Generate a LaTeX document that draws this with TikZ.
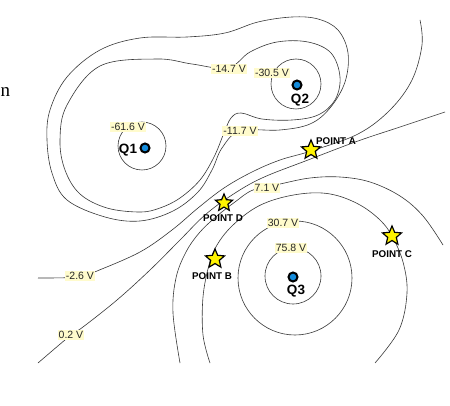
\documentclass[tikz,border=0pt]{standalone}
\usepackage{fontspec}
\setmainfont{Liberation Serif}
\newfontfamily\arialf{Liberation Sans}
\usetikzlibrary{shapes.geometric}
\definecolor{lblfill}{RGB}{255,251,204}
\definecolor{qblue}{RGB}{20,140,220}
\definecolor{staryel}{RGB}{255,243,0}
\begin{document}
\begin{tikzpicture}[x=1pt,y=-1pt,
  contour/.style={line width=0.6pt, draw=black!78},
  vlabel/.style={fill=lblfill, font=\arialf\fontsize{10.5}{11}\selectfont, text=black!85, inner sep=1.2pt},
  charge/.style={circle, fill=qblue, draw=black, line width=2pt, minimum size=9pt, inner sep=0pt},
  qlabel/.style={font=\arialf\bfseries\fontsize{13.5}{14}\selectfont, inner sep=0pt},
  pstar/.style={star, star points=5, star point ratio=2.2, fill=staryel, draw=black, line width=1.2pt, minimum size=20pt, inner sep=0pt},
  plabel/.style={font=\arialf\bfseries\fontsize{9.8}{10}\selectfont, inner sep=0pt}
]
\useasboundingbox (0,0) rectangle (450,406);
\fill[white] (0,0) rectangle (450,406);

% circles around Q1 and Q2
\draw[contour] (142,146) circle[radius=24pt];
\draw[contour] (296,84) circle[radius=25pt];
% circles around Q3
\draw[contour] (293,276) circle[radius=28pt];
\draw[contour] (295,278) circle[radius=57pt];

% inner peanut -14.7 V
\draw[contour] plot[smooth cycle, tension=0.6] coordinates {(228,68) (250,52) (277,42) (308,42) (331,53) (340,77) (335,100) (318,115) (292,120) (262,119) (241,113) (231,118) (224,133) (214,157) (200,180) (180,198) (160,208) (140,212) (107,208) (80,194) (65,170) (60,140) (67,105) (100,66) (157,59) (192,64)};

% outer peanut -11.7 V
\draw[contour] plot[smooth cycle, tension=0.6] coordinates {(240,131) (280,130) (310,124) (330,108) (345,82) (348,53) (338,30) (318,19) (292,17) (258,22) (225,33) (187,37) (140,38) (100,50) (67,77) (50,110) (47,140) (52,173) (67,200) (105,217) (140,221) (173,211) (198,192) (212,170) (222,148)};

% -2.6 V
\draw[contour] plot[smooth, tension=0.6] coordinates {(38,278) (80,277) (97,271) (140,252) (172,230) (198,208) (224,188) (252,172) (280,160) (311,151) (358,134) (390,110) (412,80) (422,45) (420,20)};

% 0.2 V
\draw[contour] plot[smooth, tension=0.6] coordinates {(38,363) (71,335) (83,327) (117,300) (150,270) (180,240) (205,215) (232,195) (262,178) (308,160) (358,141) (400,127) (445,112)};

% 7.1 V
\draw[contour] plot[smooth, tension=0.6] coordinates {(180,363) (173,313) (176,278) (186,252) (200,232) (217,216) (235,202) (253,190) (280,184) (310,178) (340,177) (370,182) (400,196) (423,216) (443,245)};

% contour through B and C
\draw[contour] plot[smooth, tension=0.6] coordinates {(210,363) (203,335) (203,297) (209,265) (217,245) (232,226) (255,208) (280,198) (310,193) (335,195) (360,205) (380,220) (392,236) (403,262) (407,293) (399,330) (375,363)};

% voltage labels
\node[vlabel] (l616) at (128,127) {-61.6 V};
\node[vlabel] (l305) at (272,73) {-30.5 V};
\node[vlabel] (l147) at (229,69) {-14.7 V};
\node[vlabel] (l117) at (240,131) {-11.7 V};
\node[vlabel] (l71) at (267,188) {7.1 V};
\node[vlabel] (l307) at (283,223) {30.7 V};
\node[vlabel] (l758) at (291,248) {75.8 V};
\node[vlabel] (l26) at (80,276) {-2.6 V};
\node[vlabel] (l02) at (71,335) {0.2 V};

% charges
\node[charge] (q1) at (145,148) {};
\node[charge] (q2) at (297,85) {};
\node[charge] (q3) at (293,277) {};
\node[qlabel] (q1l) at (128,150) {Q1};
\node[qlabel] (q2l) at (300,100) {Q2};
\node[qlabel] (q3l) at (296,291) {Q3};

% points
\node[pstar] (pa) at (311,150) {};
\node[pstar] (pb) at (215,259) {};
\node[pstar] (pc) at (392,236) {};
\node[pstar, minimum size=18pt] (pd) at (224,203) {};
\node[plabel, anchor=west] (pal) at (316,141) {POINT A};
\node[plabel] (pbl) at (212,276) {POINT B};
\node[plabel] (pcl) at (392,254) {POINT C};
\node[plabel] (pdl) at (223,218) {POINT D};

% text fragment at left edge
\node[anchor=base west, inner sep=0pt, font=\fontsize{19}{19}\selectfont] (ntxt) at (0.5,97) {n};
\end{tikzpicture}
\end{document}
